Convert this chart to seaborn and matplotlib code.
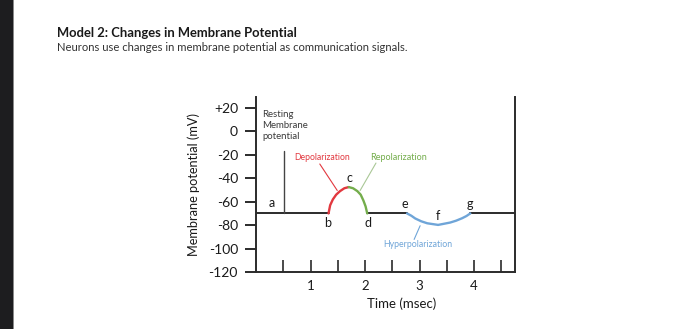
import matplotlib
matplotlib.use("Agg")
import matplotlib.pyplot as plt
import matplotlib.patches as mpatches
import seaborn as sns
import pandas as pd

# ---- data ----
# resting baseline segments (time in msec, membrane potential in mV)
rest1_t = [0.0, 1.33]
rest1_v = [-70, -70]
rest2_t = [2.04, 2.77]
rest2_v = [-70, -70]
rest3_t = [3.93, 4.75]
rest3_v = [-70, -70]

depol_t = [1.33, 1.36, 1.41, 1.47, 1.54, 1.62, 1.70]
depol_v = [-70, -63, -58, -54, -51, -48.5, -47.5]

repol_t = [1.70, 1.78, 1.86, 1.92, 1.97, 2.01, 2.04]
repol_v = [-47.5, -48.5, -51, -54, -59, -64, -70]

hyper_t = [2.77, 2.85, 2.92, 3.03, 3.14, 3.34, 3.56, 3.67, 3.78, 3.86, 3.93]
hyper_v = [-70, -72, -74.3, -76.7, -78.4, -79.8, -77.8, -76.2, -74.1, -72.2, -70]

y_ticks = [20, 0, -20, -40, -60, -80, -100, -120]
y_labels = ["+20", "0", "-20", "-40", "-60", "-80", "-100", "-120"]
x_ticks = [0.5, 1.0, 1.5, 2.0, 2.5, 3.0, 3.5, 4.0, 4.5]
x_labels = ["", "1", "", "2", "", "3", "", "4", ""]

point_labels = ["a", "b", "c", "d", "e", "f", "g"]
point_t = [0.29, 1.32, 1.72, 2.06, 2.73, 3.34, 3.93]
point_v = [-60.9, -78.3, -40.0, -78.3, -61.7, -72.2, -61.7]

title = "Model 2: Changes in Membrane Potential"
subtitle = "Neurons use changes in membrane potential as communication signals."

# ---- styling ----
sns.set_style("white")
plt.rcParams["font.family"] = ["Lato", "DejaVu Sans"]

BLACK = "#2b2b2b"
RED = "#e2383f"
GREEN = "#74ad4c"
BLUE = "#6fa5d8"

fig = plt.figure(figsize=(7.0, 3.29), dpi=100)
fig.patch.set_facecolor("white")

# dark strip at the left edge of the screenshot
fig.patches.append(mpatches.Rectangle((0, 0), 13 / 700, 1, transform=fig.transFigure,
                                      facecolor="#1d1d1f", edgecolor="none", zorder=0))
fig.patches.append(mpatches.Rectangle((13 / 700, 0), 1.2 / 700, 1, transform=fig.transFigure,
                                      facecolor="#8a8a8a", edgecolor="none", zorder=0))

fig.text(57 / 700, 1 - 33 / 329, title, fontsize=9.4, fontweight="bold",
         color="#1a1a1a", ha="left", va="center")
fig.text(57 / 700, 1 - 47.5 / 329, subtitle, fontsize=8.1, color="#333333",
         ha="left", va="center")

ax = fig.add_axes([256 / 700, 1 - 272 / 329, (515 - 256) / 700, (272 - 97) / 329])
ax.set_facecolor("white")

segs = [
    (rest1_t, rest1_v, BLACK),
    (rest2_t, rest2_v, BLACK),
    (rest3_t, rest3_v, BLACK),
    (depol_t, depol_v, RED),
    (repol_t, repol_v, GREEN),
    (hyper_t, hyper_v, BLUE),
]
for t, v, c in segs:
    df = pd.DataFrame({"t": t, "v": v})
    sns.lineplot(data=df, x="t", y="v", ax=ax, color=c, lw=1.4 if c == BLACK else 1.7,
                 sort=False, estimator=None)

ax.set_xlim(0, 4.75)
ax.set_ylim(-120, 29.4)

for s in ["left", "bottom", "right"]:
    ax.spines[s].set_visible(True)
    ax.spines[s].set_color(BLACK)
    ax.spines[s].set_linewidth(1.4)
ax.spines["top"].set_visible(False)

ax.set_yticks(y_ticks)
ax.set_yticklabels(y_labels, fontsize=10, color="#1a1a1a")
ax.tick_params(axis="y", direction="out", length=8, width=1.4, color=BLACK, pad=5,
               left=True, right=False)
ax.set_xticks(x_ticks)
ax.set_xticklabels(x_labels, fontsize=9.5, color="#1a1a1a")
ax.tick_params(axis="x", direction="in", length=8.5, width=1.2, color=BLACK, pad=6,
               bottom=True)

ax.set_ylabel("Membrane potential (mV)", fontsize=9.2, color="#1a1a1a", labelpad=6)
ax.set_xlabel("Time (msec)", fontsize=9.5, color="#1a1a1a", labelpad=10)
ax.xaxis.set_label_coords((402 - 256) / 259, -0.145)

# resting potential pointer
ax.plot([0.51, 0.51], [-70, -16.5], color="#444444", lw=1.0)
ax.text(0.12, 18, "Resting\nMembrane\npotential", fontsize=6.9, color="#3a3a3a",
        ha="left", va="top", linespacing=1.25)

# region labels and pointers
ax.text(1.21, -22.6, "Depolarization", fontsize=6.2, color=RED, ha="center", va="center")
ax.plot([1.17, 1.49], [-27.8, -50.4], color=RED, lw=0.8)
ax.text(2.61, -22.6, "Repolarization", fontsize=6.5, color=GREEN, ha="center", va="center")
ax.plot([2.20, 1.91], [-27.0, -50.4], color="#a9c796", lw=0.8)
ax.text(2.97, -96.5, "Hyperpolarization", fontsize=6.3, color=BLUE, ha="center", va="center")
ax.plot([2.90, 3.01], [-92.2, -80.5], color=BLUE, lw=0.8)

for lab, t, v in zip(point_labels, point_t, point_v):
    ax.text(t, v, lab, fontsize=9, color="#1a1a1a", ha="center", va="center")

fig.savefig("out.png", dpi=100, facecolor="white")
